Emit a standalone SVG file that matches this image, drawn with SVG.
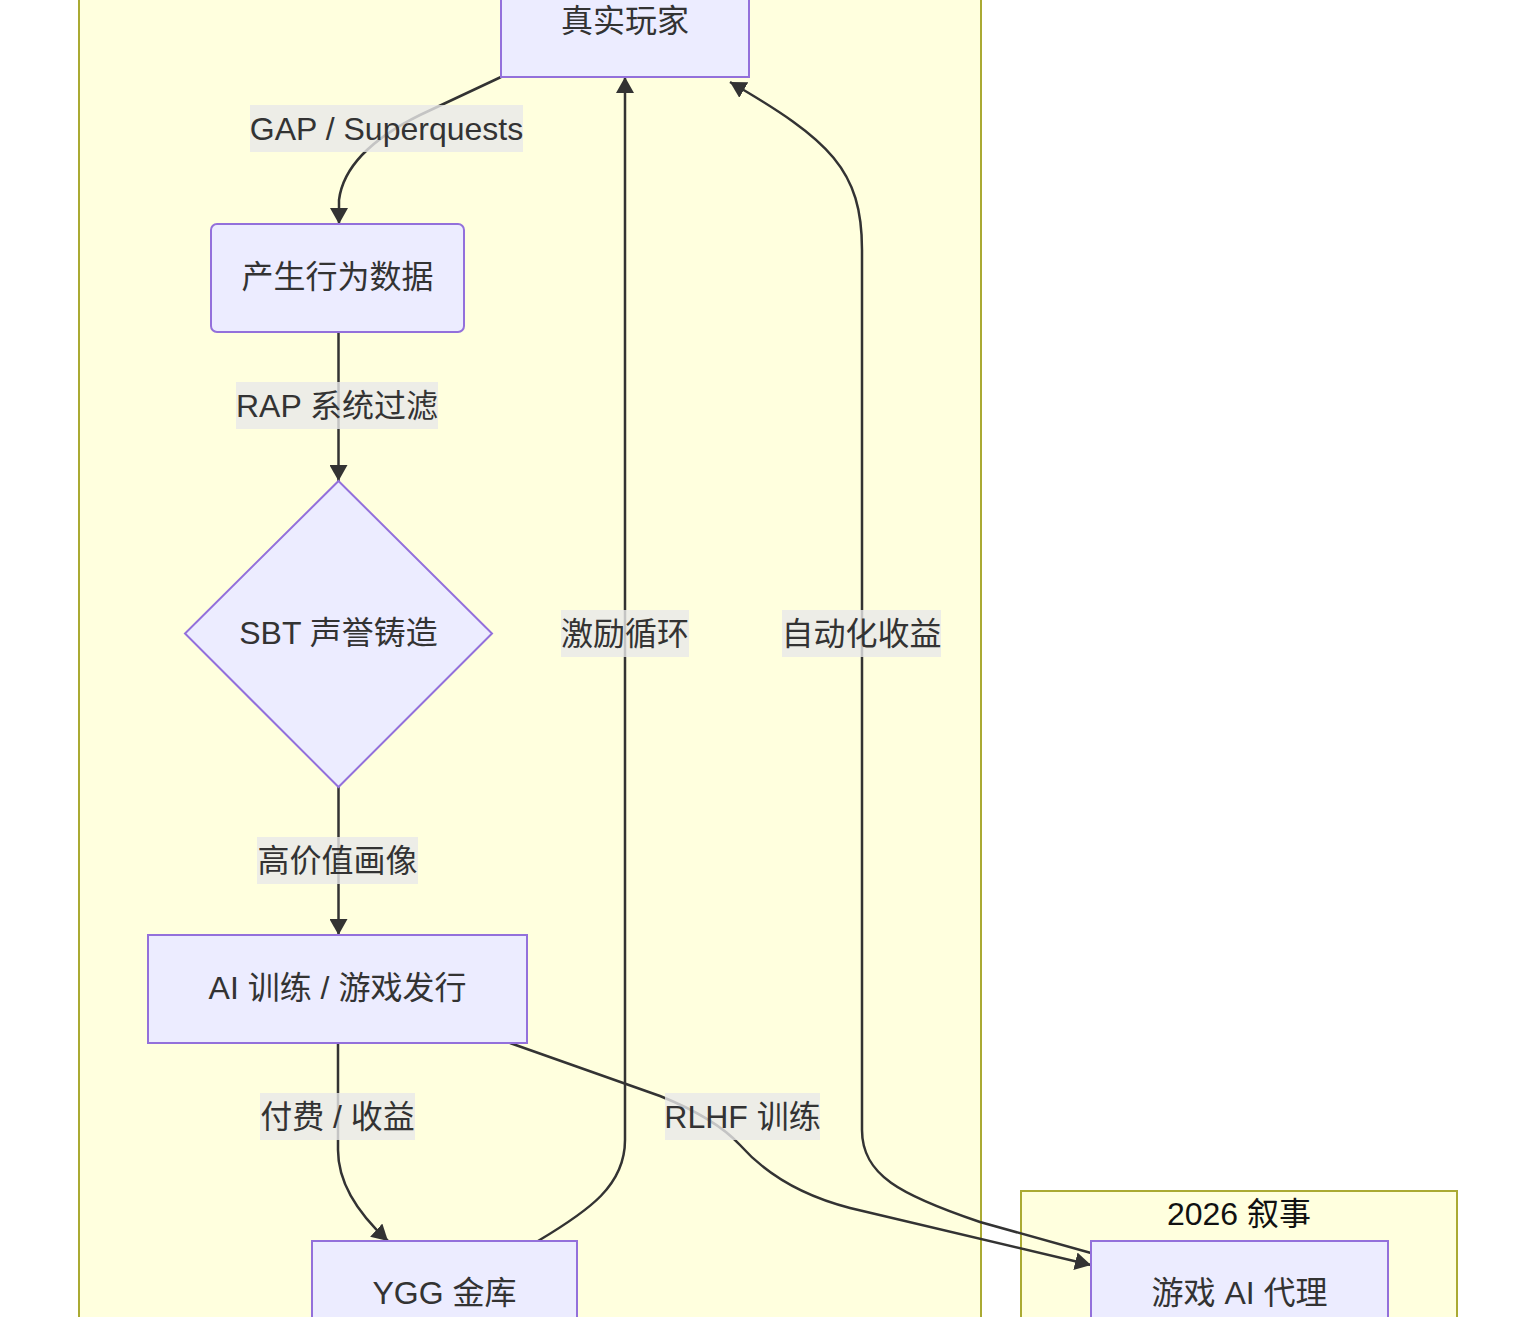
<svg xmlns="http://www.w3.org/2000/svg" width="1536" height="1317" viewBox="0 0 1536 1317">
<style>
.cluster{fill:#ffffde;stroke:#aaaa33;stroke-width:2}
.node{fill:#ececff;stroke:#9370db;stroke-width:2}
.edge{fill:none;stroke:#333;stroke-width:2.5}
.lbg{fill:#e8e8e8;fill-opacity:0.8}
text{font-family:"Liberation Sans",Arial,"Noto Sans CJK SC",sans-serif;font-size:32px;fill:#333;text-anchor:middle;dominant-baseline:central}
.ctitle{fill:#111}
</style>
<defs>
<marker id="arrow" viewBox="0 0 16 18" refX="16" refY="9" markerWidth="16" markerHeight="18" markerUnits="userSpaceOnUse" orient="auto">
<path d="M0,0 L16,9 L0,18 z" fill="#333"/>
</marker>
</defs>
<rect width="1536" height="1317" fill="#ffffff"/>
<g id="cluster-main">
<rect class="cluster" x="79" y="-10" width="902" height="1340"/>
</g>
<g id="cluster-2026">
<rect class="cluster" x="1021" y="1191" width="436" height="200"/>
<text class="ctitle" x="1239" y="1214">2026 叙事</text>
</g>
<g id="connectors">
<path class="edge" d="M501,77 L420,115 Q345,152 339,200 L339,224" marker-end="url(#arrow)"/>
<path class="edge" d="M338.5,332 L338.5,481" marker-end="url(#arrow)"/>
<path class="edge" d="M338.5,787 L338.5,935" marker-end="url(#arrow)"/>
<path class="edge" d="M338,1043 L338,1150 Q338,1195 388,1241" marker-end="url(#arrow)"/>
<path class="edge" d="M510,1043 L660,1096 Q715,1118 740,1145 Q780,1190 850,1208 L1091,1265" marker-end="url(#arrow)"/>
<path class="edge" d="M538,1241 C590,1210 625,1185 625,1140 L625,77" marker-end="url(#arrow)"/>
<path class="edge" d="M1091,1253 L980,1222 C900,1195 862,1175 862,1130 L862,250 C862,170 830,140 730,82" marker-end="url(#arrow)"/>
</g>
<g id="edge-labels">
<rect class="lbg" x="250" y="105" width="273" height="47"/>
<text x="386.5" y="128.5">GAP / Superquests</text>
<rect class="lbg" x="236" y="382" width="202" height="47"/>
<text x="337" y="405.5">RAP 系统过滤</text>
<rect class="lbg" x="257" y="837" width="161" height="47"/>
<text x="337.5" y="860.5">高价值画像</text>
<rect class="lbg" x="260" y="1093" width="155" height="47"/>
<text x="337.5" y="1116.5">付费 / 收益</text>
<rect class="lbg" x="665" y="1093" width="155" height="47"/>
<text x="742.5" y="1116.5">RLHF 训练</text>
<rect class="lbg" x="561" y="610" width="128" height="47"/>
<text x="625" y="633.5">激励循环</text>
<rect class="lbg" x="782" y="610" width="159" height="47"/>
<text x="861.5" y="633.5">自动化收益</text>
</g>
<g id="node-player">
<rect class="node" x="501" y="-31" width="248" height="108"/>
<text x="625" y="21">真实玩家</text>
</g>
<g id="node-data">
<rect class="node" x="211" y="224" width="253" height="108" rx="6" ry="6"/>
<text x="337.5" y="277">产生行为数据</text>
</g>
<g id="node-sbt">
<polygon class="node" points="338.5,481 492,633.5 338.5,787 185,633.5"/>
<text x="338.5" y="633">SBT 声誉铸造</text>
</g>
<g id="node-ai">
<rect class="node" x="148" y="935" width="379" height="108"/>
<text x="337.5" y="988">AI 训练 / 游戏发行</text>
</g>
<g id="node-ygg">
<rect class="node" x="312" y="1241" width="265" height="108"/>
<text x="444.5" y="1293">YGG 金库</text>
</g>
<g id="node-agent">
<rect class="node" x="1091" y="1241" width="297" height="108"/>
<text x="1239.5" y="1293">游戏 AI 代理</text>
</g>
</svg>
